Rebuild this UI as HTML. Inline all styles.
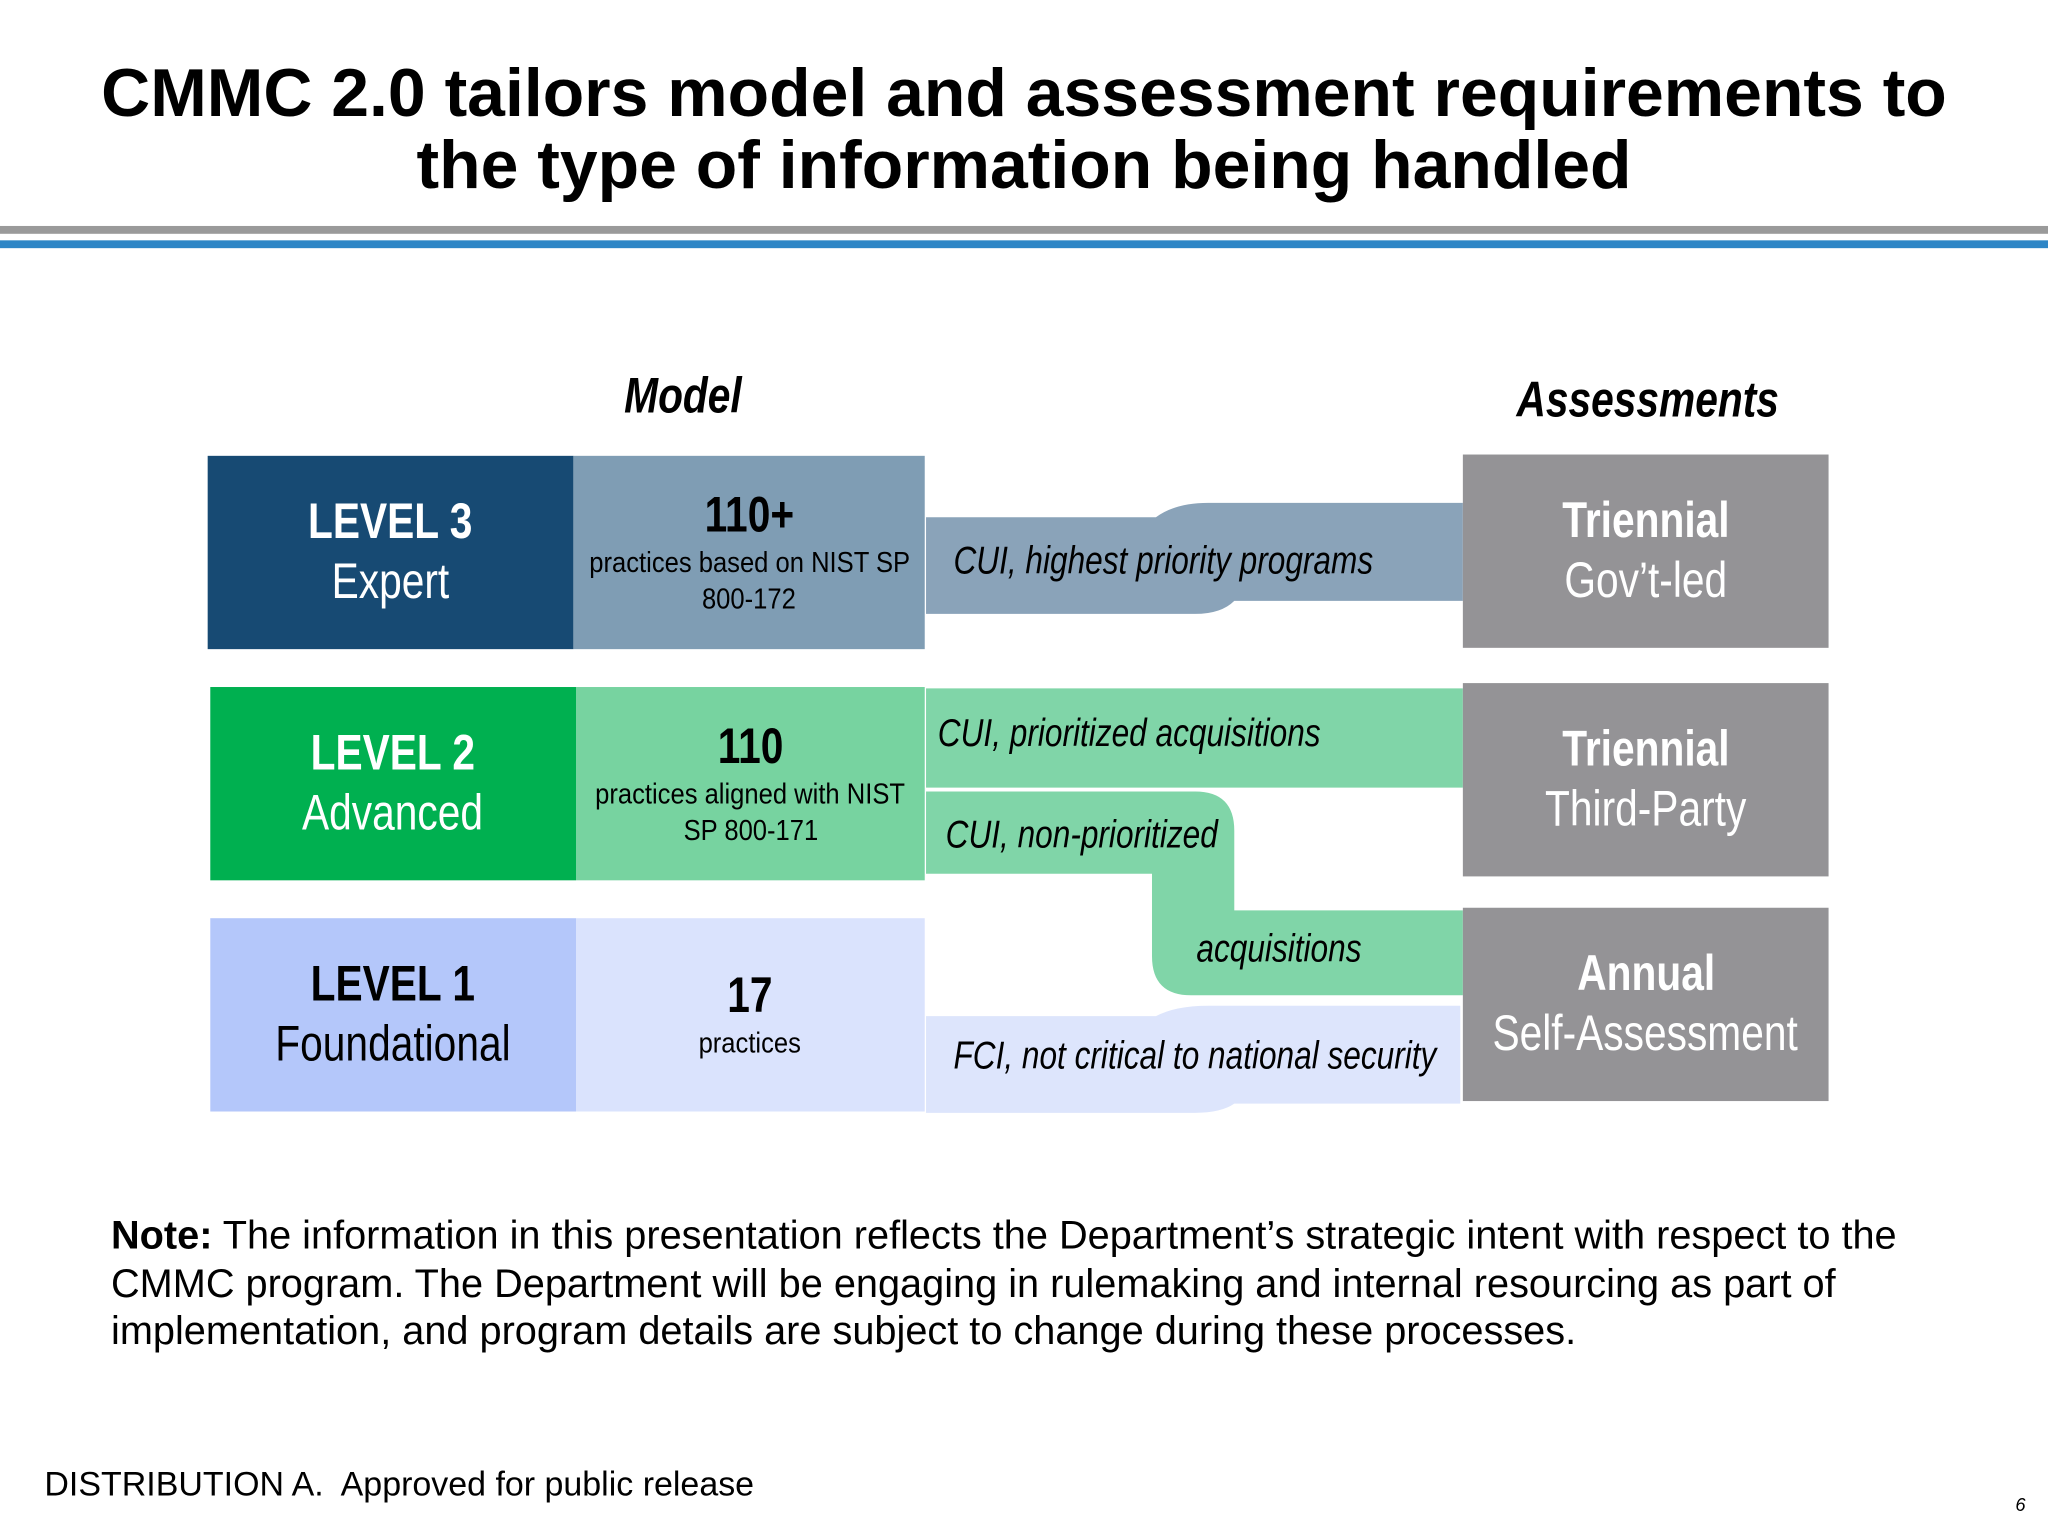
<!DOCTYPE html>
<html><head><meta charset="utf-8">
<style>
html,body{margin:0;padding:0;background:#fff;}
body{width:2048px;height:1536px;overflow:hidden;position:relative;}
#s{position:absolute;left:0;top:0;width:1568px;height:1176px;transform:scale(1.30612);transform-origin:0 0;font-family:"Liberation Sans",Arial,sans-serif;}
.a{position:absolute;}
.n{display:inline-block;white-space:nowrap;transform:scaleX(.82);}
.p{transform:scaleX(.89);}
.l{transform-origin:0 50%;}
.box{position:absolute;display:flex;flex-direction:column;align-items:center;justify-content:center;text-align:center;}
</style></head><body>
<div id="s">
<div class="a" style="left:0;top:45px;width:1568px;text-align:center;font-weight:bold;font-size:52px;line-height:55px;color:#000;white-space:nowrap;">CMMC 2.0 tailors model and assessment requirements to<br>the type of information being handled</div>
<div class="a" style="left:0;top:173px;width:1568px;height:6px;background:#9a9a9a;"></div>
<div class="a" style="left:0;top:184px;width:1568px;height:6px;background:#2e86c6;"></div>

<div class="a" style="left:438px;top:283px;width:170px;text-align:center;font-size:38px;font-weight:bold;font-style:italic;"><span class="n">Model</span></div>
<div class="a" style="left:1120px;top:286px;width:284px;text-align:center;font-size:38px;font-weight:bold;font-style:italic;"><span class="n">Assessments</span></div>

<svg class="a" style="left:0;top:0" width="1568" height="1176">
<path fill="#8aa3b9" d="M709 396 H885 Q900 385 925 385 H1120 V460 H945 Q935 470 915 470 H709 Z"/>
<path fill="#80d5a8" d="M709 527 H1120 V603 H709 Z"/>
<path fill="#80d5a8" d="M709 606 H915 Q945 606 945 636 V697 H1120 V762 H912 Q882 762 882 732 V669 H709 Z"/>
<path fill="#dde5fc" d="M709 778 H885 Q900 770 925 770 H1118 V845 H945 Q935 852 915 852 H709 Z"/>
</svg>

<div class="box" style="left:159px;top:349px;width:280px;height:148px;background:#174a73;color:#fff;font-size:38px;line-height:46px;"><b class="n">LEVEL 3</b><span class="n">Expert</span></div>
<div class="box" style="left:439px;top:349px;width:269px;height:148px;background:#7f9db4;color:#000;font-size:22px;line-height:28px;"><b class="n" style="font-size:38px;line-height:44px;">110+</b><span class="n p">practices based on NIST SP</span><span class="n p">800-172</span></div>
<div class="box" style="left:161px;top:526px;width:280px;height:148px;background:#00b050;color:#fff;font-size:38px;line-height:46px;"><b class="n">LEVEL 2</b><span class="n">Advanced</span></div>
<div class="box" style="left:441px;top:526px;width:267px;height:148px;background:#77d3a0;color:#000;font-size:22px;line-height:28px;"><b class="n" style="font-size:38px;line-height:44px;">110</b><span class="n p">practices aligned with NIST</span><span class="n p">SP 800-171</span></div>
<div class="box" style="left:161px;top:703px;width:280px;height:148px;background:#b4c7fa;color:#000;font-size:38px;line-height:46px;"><b class="n">LEVEL 1</b><span class="n">Foundational</span></div>
<div class="box" style="left:441px;top:703px;width:267px;height:148px;background:#dae3fd;color:#000;font-size:22px;line-height:28px;"><b class="n" style="font-size:38px;line-height:44px;">17</b><span class="n p">practices</span></div>

<div class="box" style="left:1120px;top:348px;width:280px;height:148px;background:#949396;color:#fff;font-size:38px;line-height:46px;"><b class="n">Triennial</b><span class="n">Gov’t-led</span></div>
<div class="box" style="left:1120px;top:523px;width:280px;height:148px;background:#949396;color:#fff;font-size:38px;line-height:46px;"><b class="n">Triennial</b><span class="n">Third-Party</span></div>
<div class="box" style="left:1120px;top:695px;width:280px;height:148px;background:#949396;color:#fff;font-size:38px;line-height:46px;"><b class="n">Annual</b><span class="n">Self-Assessment</span></div>

<div class="a" style="left:730px;top:413px;font-size:29.5px;font-style:italic;"><span class="n l">CUI, highest priority programs</span></div>
<div class="a" style="left:718px;top:545px;font-size:29.5px;font-style:italic;"><span class="n l">CUI, prioritized acquisitions</span></div>
<div class="a" style="left:724px;top:623px;font-size:29.5px;font-style:italic;"><span class="n l">CUI, non-prioritized</span></div>
<div class="a" style="left:916px;top:710px;font-size:29.5px;font-style:italic;"><span class="n l">acquisitions</span></div>
<div class="a" style="left:730px;top:792px;font-size:29.5px;font-style:italic;"><span class="n l">FCI, not critical to national security</span></div>

<div class="a" style="left:85px;top:928px;width:1440px;font-size:30.4px;line-height:36.5px;color:#000;"><b>Note:</b> The information in this presentation reflects the Department’s strategic intent with respect to the<br>CMMC program. The Department will be engaging in rulemaking and internal resourcing as part of<br>implementation, and program details are subject to change during these processes.</div>
<div class="a" style="left:34px;top:1121px;font-size:26px;white-space:nowrap;">DISTRIBUTION A.&nbsp; Approved for public release</div>
<div class="a" style="left:1543px;top:1144px;font-size:14px;font-style:italic;">6</div>
</div>
</body></html>
